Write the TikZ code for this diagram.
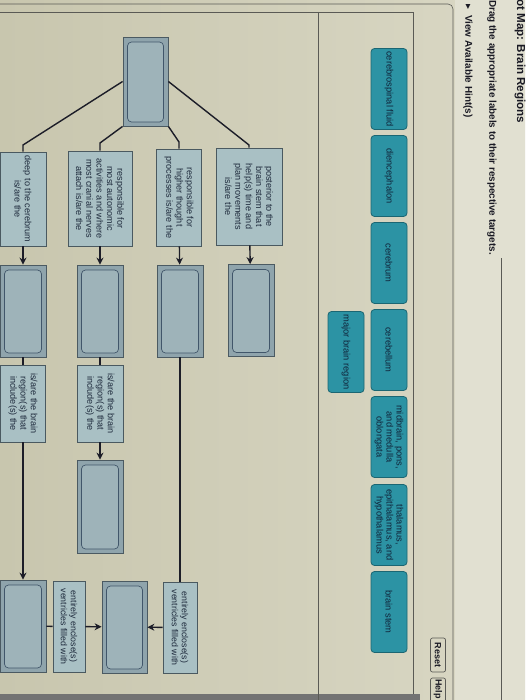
\documentclass[tikz,border=0pt]{standalone}
\usepackage{fontspec}
\setmainfont{Liberation Sans}
\newfontfamily\symfont{DejaVu Sans}
\usetikzlibrary{arrows.meta}
\definecolor{bgL}{HTML}{C8C6AE}
\definecolor{bgR}{HTML}{DAD8C5}
\definecolor{panelC}{HTML}{5A5A55}
\definecolor{dfill}{HTML}{A9C0C4}
\definecolor{dborder}{HTML}{4A5960}
\definecolor{dtext}{HTML}{1E2A3C}
\definecolor{tfill}{HTML}{8FA4AC}
\definecolor{tborder}{HTML}{4B5A62}
\definecolor{ifill}{HTML}{9EB3B9}
\definecolor{iborder}{HTML}{41566A}
\definecolor{lfill}{HTML}{2C93A4}
\definecolor{lborder}{HTML}{1B6673}
\definecolor{ltext}{HTML}{10243A}
\definecolor{lineC}{HTML}{1C1D28}
\definecolor{titleC}{HTML}{1A1A24}
\begin{document}
\begin{tikzpicture}[x=1pt,y=-1pt,
  desc/.style={draw=dborder, fill=dfill, line width=0.8pt, rotate=-90, align=center,
    inner sep=0.5pt, text=dtext, font=\fontsize{9.1}{10.3}\selectfont},
  tgt/.style={draw=tborder, fill=tfill, line width=0.8pt, inner sep=0pt,
    path picture={\draw[draw=iborder, fill=ifill, line width=0.7pt, rounded corners=4pt]
      ([shift={(4.5pt,-5pt)}]path picture bounding box.north west) rectangle
      ([shift={(-4.5pt,4pt)}]path picture bounding box.south east);}},
  lbl/.style={draw=lborder, fill=lfill, line width=0.8pt, rounded corners=3.5pt, rotate=-90,
    align=center, inner sep=0.5pt, text=ltext, minimum width=81pt, minimum height=36pt,
    font=\fontsize{9.3}{10}\selectfont},
  conn/.style={draw=lineC, line width=1.4pt},
  arr/.style={conn, -{Stealth[length=7pt,width=7pt]}},
  panel/.style={draw=panelC, line width=0.6pt},
  btn/.style={draw=panelC, line width=0.7pt, rounded corners=2pt, rotate=-90, inner sep=1pt,
    minimum width=34pt, minimum height=15pt, text=titleC, font=\bfseries\fontsize{9}{10}\selectfont}
]
\useasboundingbox (0,0) rectangle (525,700);
\clip (0,0) rectangle (525,700);
\shade[left color=bgL, right color=bgR] (0,0) rectangle (525,700);
\fill[color=bgR!80!white] (455,0) rectangle (525,700);
\fill[color=black!55] (0,694) rectangle (420,700);

% panel lines
\draw[panel, rounded corners=5pt] (0,4) -- (453,4) -- (453,700);
\draw[panel] (0,12) -- (413,12) -- (413,694);
\draw[panel] (318,12) -- (318,700);
\draw[panel] (501,258) -- (501,700);

% header texts
\node[rotate=-90, anchor=west, inner sep=0pt, text=titleC, font=\bfseries\fontsize{11.6}{13}\selectfont] (title) at (520,-1) {ot Map: Brain Regions};
\node[rotate=-90, anchor=west, inner sep=0pt, text=titleC, font=\bfseries\fontsize{9.9}{11}\selectfont] (drag) at (492,0) {Drag the appropriate labels to their respective targets.};
\node[rotate=-90, anchor=west, inner sep=0pt, text=titleC, font=\symfont\fontsize{6.5}{7}\selectfont] (bullet) at (468,4) {▶};
\node[rotate=-90, anchor=west, inner sep=0pt, text=titleC, font=\bfseries\fontsize{9.9}{11}\selectfont] (hint) at (468,15) {View Available Hint(s)};

% buttons
\node[btn] (reset) at (438,655) {Reset};
\node[btn, text width=32pt, align=left] (help) at (438,695) {Help};

% labels
\node[lbl] (l1) at (389,89) {cerebrospinal fluid};
\node[lbl] (l2) at (389,176) {diencephalon};
\node[lbl] (l3) at (389,263) {cerebrum};
\node[lbl] (l4) at (389,350) {cerebellum};
\node[lbl] (l5) at (389,437) {midbrain, pons,\\and medulla\\oblongata};
\node[lbl] (l6) at (389,525) {thalamus,\\epithalamus, and\\hypothalamus};
\node[lbl] (l7) at (389,612) {brain stem};
\node[lbl] (l8) at (346,352) {major brain region};

% root
\node[tgt, minimum width=45pt, minimum height=89pt] (root) at (145.5,81.5) {};

% description boxes
\node[desc, minimum width=94pt, minimum height=46pt] (dA) at (23,199) {deep to the cerebrum\\is/are the};
\node[desc, minimum width=95pt, minimum height=64pt] (dB) at (100,198.5) {responsible for\\most autonomic\\activities and where\\most cranial nerves\\attach is/are the};
\node[desc, minimum width=97pt, minimum height=45pt] (dC) at (179,197.5) {responsible for\\higher thought\\processes is/are the};
\node[desc, minimum width=97pt, minimum height=66pt] (dD) at (249,196.5) {posterior to the\\brain stem that\\help(s) time and\\plan movements\\is/are the};

% targets row 2
\node[tgt, minimum width=46pt, minimum height=92pt] (tA) at (23,311) {};
\node[tgt, minimum width=46pt, minimum height=92pt] (tB) at (100,311) {};
\node[tgt, minimum width=46pt, minimum height=92pt] (tC) at (180,311) {};
\node[tgt, minimum width=46pt, minimum height=92pt] (tD) at (251,310.5) {};

% row 3
\node[desc, minimum width=77pt, minimum height=45pt] (rA) at (23,403.5) {is/are the brain\\region(s) that\\include(s) the};
\node[desc, minimum width=77pt, minimum height=46pt] (rB) at (100,403.5) {is/are the brain\\region(s) that\\include(s) the};
\node[tgt, minimum width=46pt, minimum height=93pt] (tB2) at (100,506.5) {};

% bottom row
\node[tgt, minimum width=46pt, minimum height=92pt] (tA2) at (23,626) {};
\node[desc, minimum width=91pt, minimum height=32pt, font=\fontsize{8.8}{10}\selectfont] (eL) at (69,626.5) {entirely enclose(s)\\ventricles filled with};
\node[tgt, minimum width=45pt, minimum height=92pt] (fT) at (124.5,627) {};
\node[desc, minimum width=91pt, minimum height=34pt, font=\fontsize{8.8}{10}\selectfont] (eR) at (180,627.5) {entirely enclose(s)\\ventricles filled with};

% tree connectors
\coordinate (bA) at (23,145);
\coordinate (bB) at (100,143);
\coordinate (bC) at (179,142);
\coordinate (bD) at (249,145);
\draw[conn] (root.west) -- (bA) -- (dA);
\draw[conn] (root.south west) -- (bB) -- (dB);
\draw[conn] (root.south east) -- (bC) -- (dC);
\draw[conn] (root.east) -- (bD) -- (dD);

\draw[arr] (dA) -- (tA);
\draw[arr] (dB) -- (tB);
\draw[arr] (dC) -- (tC);
\draw[arr] (dD) -- (tD);

\draw[conn] (tA) -- (rA);
\draw[arr] (rA) -- (tA2);
\draw[conn] (tB) -- (rB);
\draw[arr] (rB) -- (tB2);
\draw[conn] (tC) -- (eR);
\draw[conn] (tA2) -- (eL);
\draw[arr] (eL) -- (fT);
\draw[arr] (eR) -- (fT);
\end{tikzpicture}
\end{document}
